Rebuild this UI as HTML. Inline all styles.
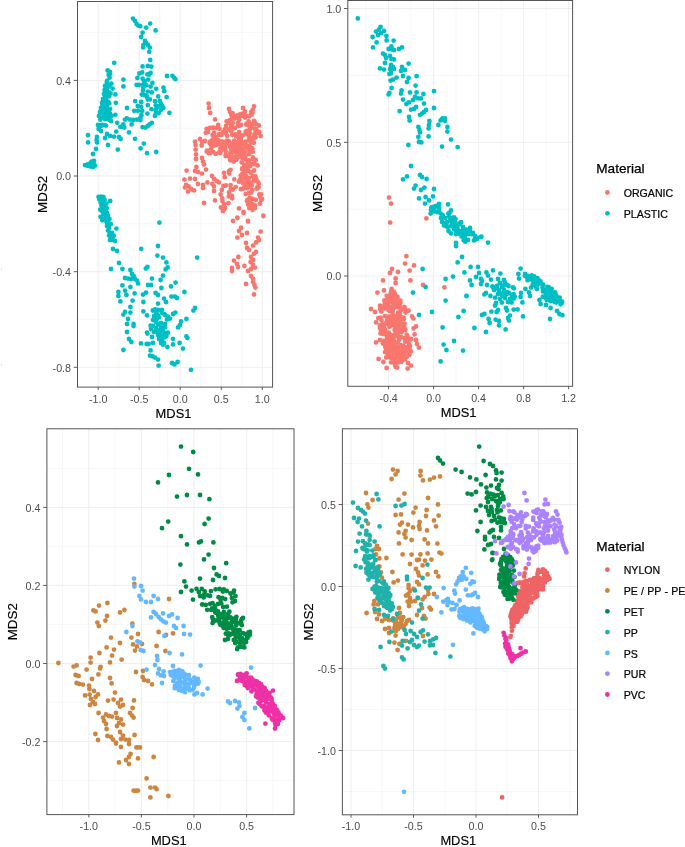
<!DOCTYPE html>
<html lang="en"><head><meta charset="utf-8"><title>MDS plots</title>
<style>html,body{margin:0;padding:0;background:#fff}svg{display:block}text{font-family:"Liberation Sans", Arial, Helvetica, sans-serif}.tk{font-size:10.7px;fill:#4d4d4d}.tt{font-size:12.9px;fill:#000;stroke:#000;stroke-width:.15}.lt{font-size:13.6px;fill:#000;stroke:#000;stroke-width:.25}.lg{font-size:10.6px;fill:#000;stroke:#000;stroke-width:.2;word-spacing:.3px}.mj{stroke:#ececec;stroke-width:.9}.mn{stroke:#f1f1f1;stroke-width:.6}.bd{fill:none;stroke:#555;stroke-width:1}.tm{stroke:#4d4d4d;stroke-width:.9}.pt{fill:none;stroke-linecap:round;stroke-width:4.8}</style></head><body>
<svg width="685" height="847" viewBox="0 0 685 847">
<rect width="685" height="847" fill="#fff"/>
<g id="p1">
<path class="mn" d="M118.7 1.5V387.1M159.7 1.5V387.1M200.7 1.5V387.1M241.7 1.5V387.1M77.5 32.6H272.6M77.5 128.2H272.6M77.5 223.8H272.6M77.5 319.4H272.6"/>
<path class="mj" d="M98.2 1.5V387.1M139.2 1.5V387.1M180.2 1.5V387.1M221.3 1.5V387.1M262.3 1.5V387.1M77.5 80.4H272.6M77.5 176H272.6M77.5 271.7H272.6M77.5 367.3H272.6"/>
<path class="pt" stroke="#00BFC4" d="M133 18.6h0M135 21h0M136.6 24h0M138.2 25.6h0M140.2 26.2h0M146.2 27.6h0M150.2 23.6h0M155.6 30.4h0M142.6 32.6h0M141.2 37h0M145 41h0M146.2 43h0M143.4 45h0M143.2 47.4h0M148 45h0M149.8 47.6h0M149.2 51.8h0M150.2 60h0M142.6 66.4h0M147.8 66h0M151.4 66.6h0M142.2 72.4h0M147.4 74.4h0M150.6 73h0M137.4 78h0M142.6 78.6h0M144.6 81h0M148.2 79.6h0M136.6 84.8h0M139 84.8h0M143 84.8h0M146.2 85.2h0M150.6 86.6h0M156.2 88.8h0M163.4 87.6h0M164.2 91.2h0M167 76h0M172.4 75.8h0M174.2 77.8h0M175.4 79.2h0M166.6 97.2h0M143 90.6h0M147.8 91.6h0M151.8 92.4h0M141.8 94.6h0M147 96.4h0M147.8 99.6h0M158.2 96.4h0M155 101.2h0M159.8 100.8h0M161 103.6h0M162.2 106h0M163.4 108h0M169.4 112.8h0M135.2 101.2h0M141.2 102h0M147.8 105.2h0M137.8 106h0M141.2 106.8h0M134.2 110.8h0M138 110.8h0M142.2 110.8h0M151.4 109.2h0M155.8 110h0M147.4 113.6h0M155.8 113.6h0M158.6 113.2h0M127 108h0M141.4 115.6h0M140.4 118h0M136.8 119.6h0M133.2 120h0M130 119.6h0M126.8 118.4h0M125 119.6h0M131.6 124.4h0M123.4 124.4h0M120.4 126.8h0M124.2 127.6h0M117.2 122.8h0M116.2 131.6h0M129 132.4h0M151.8 122.8h0M149.6 124.4h0M147.8 126h0M145.4 127.6h0M142.6 127.2h0M135 138.8h0M143.8 143.6h0M140.6 148.4h0M147 153.2h0M156.2 152h0M123.4 79.6h0M123.4 86.4h0M114.2 62.8h0M115.4 94.4h0M115.8 102.8h0M115.4 114.8h0M117.8 149.6h0M108 145h0M120.6 139h0M119 137h0M114 136.6h0M110 136h0M107 134h0M105 138h0M88 135.2h0M88 142.4h0M96 149h0M93 154h0M107.6 70.4h0M110 72h0M108.6 75h0M109.6 77.6h0M107 81h0M111.4 83.6h0M105 86h0M108 87h0M112.6 88.6h0M104.6 90h0M107 91h0M109 92.4h0M104 94h0M106.6 95.6h0M109 96.4h0M103 99h0M106 100h0M108 101.6h0M102 103h0M105 104.4h0M107 105.6h0M101 108h0M104 109h0M107 109.6h0M110 109h0M100 112h0M102.6 113h0M105.4 114h0M109 114.4h0M111.4 116h0M99 116h0M102 117.6h0M105 119h0M108.6 119.6h0M111 121h0M98 125h0M100.6 126h0M103 125h0M106 125.6h0M98.6 129h0M101 131h0M97 137h0M96.6 140h0M97 142.4h0M85 165.2h0M87 165.6h0M89 164h0M91 162.4h0M94 161h0M92 165h0M90 166.4h0M95 165.6h0M93 167h0M100.3 119.5h0M108.4 86.3h0M104.9 97.2h0M106.9 116.2h0M109.3 96.2h0M104.3 112.4h0M101.5 124.9h0M110.1 73.7h0M110.6 93.3h0M104.2 99.8h0M109.3 103.2h0M106.8 82.4h0M107.8 111.8h0M109.2 109.5h0M102.5 104.9h0M105.1 105h0M107.6 109.8h0M105.1 115.6h0M105.3 94h0M109.6 85h0M105.2 125.3h0M102 102.7h0M108.6 117.9h0M109.9 113.5h0M158.7 106.5h0M152.4 82.9h0M150 99.4h0M149.1 74.7h0M143.4 87.6h0M143.9 80.8h0M144.7 83.5h0M141.4 115h0M147 96.8h0M139.4 73.5h0M161 109.8h0M154.9 115.9h0M156 109.4h0M140.4 120h0M155.7 105.3h0M144.5 95.2h0M87.8 164.5h0M89.1 164.8h0M91.7 161.6h0M93.8 164.1h0M91.7 166.4h0M90.6 165.6h0M98.6 197h0M101 196.6h0M103.4 197h0M99.4 199.4h0M102 199.4h0M104.6 200h0M110.2 201h0M100.6 202.6h0M103 203h0M101.4 205.6h0M104 206h0M106 207.4h0M102.6 209h0M105 210.6h0M107 213h0M103.4 214h0M106 215h0M102 218.6h0M105 218.6h0M107.4 217.4h0M109.4 219h0M106.6 222h0M108.6 223.4h0M107 226h0M109 228h0M116.4 228.6h0M108 230.6h0M110 232.6h0M109 235.4h0M111.4 236.6h0M110 240h0M112.6 239.4h0M115 241h0M113 249h0M117 251h0M119 263h0M111 269h0M122.4 269h0M159.4 222.6h0M158 246h0M141.2 248.8h0M157.4 255.6h0M163 257.6h0M166.4 262.4h0M167.6 267.4h0M165.6 269.4h0M147.4 267h0M145.8 268.6h0M197.2 257.6h0M130.4 270h0M132 274h0M133.6 276h0M125 278h0M128 278.6h0M131 279h0M135 279h0M137 280.6h0M138 283.4h0M152 278.6h0M163 275.6h0M160.6 280h0M175.6 282.6h0M171 286.4h0M122.4 285.4h0M130.4 287h0M148 285h0M151 285h0M161.4 288h0M125 290.6h0M118.4 292h0M118.4 296h0M126.4 295h0M134.6 293.4h0M143 294.6h0M146 292.6h0M155.6 293h0M158 295h0M184.4 292h0M164 298.6h0M166 302h0M171.4 296.6h0M175 296.6h0M177 298h0M120.4 301.4h0M132.6 300.6h0M143.4 302h0M158 303.6h0M130.4 307h0M155 309.4h0M158 310h0M162 310h0M125 312h0M123.4 314.6h0M130.4 312.6h0M143.4 311.4h0M147 315.4h0M156 314h0M158 316h0M165 315h0M168 316.6h0M170 318.6h0M173 314h0M175.4 312.6h0M195 308h0M193.4 310.6h0M186.4 319h0M181 321.4h0M128 319h0M127 324h0M133.6 324h0M133.6 326h0M153 320h0M156 322h0M158 324h0M161 323h0M165 324h0M153 326h0M156 328h0M161 327h0M165 327.4h0M151 329h0M163 331h0M147 332.6h0M127 332h0M178 327.4h0M180 325h0M101.6 200.2h0M104.4 202.6h0M106.8 208.3h0M112 233h0M110.3 235.2h0M108.1 226.7h0M106.3 203.7h0M113.8 235.7h0M106.3 214.7h0M107.9 215.5h0M100.2 209.6h0M102.3 220.3h0M105.7 211.4h0M104.7 204.8h0M110.9 224.1h0M101.6 210.8h0M100.5 216.8h0M113.2 239.9h0M147.4 333.6h0M152 337h0M158 335h0M161 336h0M165 337h0M162 340h0M159 339h0M173 339h0M186.4 336.4h0M187.4 338h0M129 339h0M131.4 342h0M141 343.4h0M146.6 344h0M148.6 344h0M153 343h0M161 343h0M163 342.4h0M167.4 347h0M173 344.4h0M179.6 343h0M183 348.6h0M123.4 350h0M150.6 350.4h0M150 355.6h0M152.6 356.4h0M155 357.6h0M158 359.6h0M158.6 365.6h0M172 363h0M174.4 364.4h0M177.6 362h0M191 369.8h0M154 332h0M158 331h0M165 333h0M166.4 336h0M160 333h0M161.8 336.2h0M164.1 343h0M150.6 325.7h0M167.9 332.7h0M158.9 317.4h0M160.3 329.8h0M164.5 314.1h0M161.7 312.8h0M154 316.2h0M160.2 333.8h0M163.1 344.7h0M167 319.4h0M156.9 314.3h0M152.8 310.5h0M155.7 330.9h0M156.4 319.8h0"/>
<path class="pt" stroke="#F8766D" d="M208.6 103.6h0M209 108h0M210.2 113h0M215 119.4h0M218.2 125h0M206.6 129h0M212.2 128h0M208 132h0M214 133h0M216 137h0M195 141.6h0M200 139h0M202 142h0M205 141h0M195.6 145h0M201.6 145.6h0M195.6 149.6h0M196 154.4h0M196 159h0M202 158h0M203 161.6h0M204 164.4h0M196.4 167h0M206 169.6h0M195 171h0M198 172h0M202 173.6h0M186.6 170.6h0M212 176h0M184.4 179.6h0M190 178.6h0M195 179h0M214 179h0M216.6 181h0M219 182.4h0M198 184h0M203 185h0M207.4 182.4h0M212.4 184h0M214 186.4h0M186 185h0M188.6 186.4h0M185 187.6h0M191 189h0M194 190.4h0M188 191.6h0M203 188h0M214 191h0M204 203h0M215 200.4h0M233 221h0M237.4 218h0M239 208.4h0M243.6 213h0M248 221h0M263.4 215.6h0M241 227.6h0M223 211h0M225 208h0M229 109h0M243 108h0M254 106.4h0M252.6 110h0M260.6 136h0M249.1 154.2h0M232 123.4h0M231.1 150.8h0M225.7 151.4h0M220.2 153.1h0M245.6 131.8h0M234.9 146.5h0M215.7 139.4h0M249.8 123.6h0M249.7 146.7h0M251.9 127.5h0M210.2 153h0M249.7 133.5h0M240.3 125h0M216.2 145h0M255.6 137.3h0M240.8 147.4h0M238.5 125.7h0M253.9 137.9h0M211.5 145.5h0M231.9 116.6h0M239.5 125.8h0M226 130.4h0M246.5 130.9h0M242.3 157.9h0M229.9 154.7h0M249.3 137.4h0M231.2 147.8h0M246.5 123.6h0M232.1 152.1h0M211.9 141.4h0M230.1 160h0M253.9 142.7h0M219.9 135.1h0M226 125.8h0M249.7 126.8h0M241.7 162.4h0M256.3 129.7h0M227.1 135.8h0M249.1 160.5h0M230 112.1h0M206.7 151.5h0M211.2 148.5h0M252.5 112.4h0M239.1 132.2h0M232.3 134.8h0M213.1 143.4h0M238.7 116.9h0M239.9 114.4h0M210.9 144.5h0M230.7 158.5h0M209.6 143h0M254.7 133.9h0M243.6 152.5h0M255.5 133.2h0M248.3 133.6h0M220.4 148.2h0M208.5 153h0M252.7 124.4h0M258.7 132.7h0M240.5 138.5h0M245.7 115.3h0M235.4 134.5h0M232.5 113.1h0M213.4 140.3h0M226.6 121.3h0M217.3 140h0M255.6 132.1h0M218.4 140.5h0M248.7 140.3h0M226.2 133.3h0M235.6 145.4h0M244.8 144.5h0M249.8 129.5h0M214.1 143.4h0M207.2 150.7h0M248.7 121.4h0M236.4 159.7h0M221.3 134.9h0M245.3 156.5h0M214.4 145.4h0M242.6 149.1h0M241.2 124.8h0M229.7 120.1h0M252.8 151.8h0M237.9 123h0M249 150h0M243 151.7h0M210.2 141.7h0M257.7 133h0M251.3 111.8h0M251.1 113.8h0M237.8 124h0M226.3 141.7h0M236.3 143.5h0M249.9 140.7h0M233.6 115.6h0M238 135.1h0M252.9 138.2h0M243.6 153.6h0M231.2 155.3h0M225.6 156h0M239.6 151.3h0M233.9 161.5h0M233.9 151.7h0M232.1 129h0M237.9 156.7h0M241.1 152.9h0M211.1 142.2h0M245 117.5h0M242 115.9h0M245.5 159.4h0M240 156.3h0M246.1 134.2h0M230.3 153.2h0M236.8 149.4h0M255.7 124.1h0M226.4 143.3h0M225.7 154.8h0M213.2 145.7h0M231.1 131.2h0M251.6 114.7h0M242.7 135.4h0M229.3 123h0M235.1 128h0M235.3 157.6h0M244.9 111.5h0M246.5 145.4h0M253.9 136.2h0M234.8 118.4h0M245.4 147.6h0M254 121h0M245.5 141.7h0M241.5 113.8h0M228.9 141.2h0M239.4 142.5h0M220 144.1h0M240.8 155h0M258.9 125.5h0M228.7 129.4h0M222.7 145.5h0M252.4 148.5h0M246.2 124.6h0M232.6 149h0M254.7 122.2h0M233.7 157h0M213.5 152.1h0M249.1 116.4h0M223.2 132.1h0M243.6 142.7h0M232.1 126.8h0M239.2 119.6h0M236.4 144.6h0M237.9 141.8h0M227 140.7h0M255.2 129h0M232.7 122.9h0M225.1 148.2h0M227.9 141.4h0M222 141.4h0M231.3 114.7h0M237 146.2h0M231.1 127h0M238.8 135.5h0M240.5 144.2h0M233.6 128.3h0M237.6 115.3h0M224.3 144.8h0M239.1 138.5h0M251.1 142.5h0M219.7 152h0M240.8 139.9h0M231.9 160.4h0M231.2 120.3h0M259.3 132h0M224.8 129.3h0M215.6 153.9h0M236.2 136.6h0M234.4 159.5h0M242.5 144.1h0M247.3 164.3h0M255.7 160h0M252.7 176.1h0M240 179.9h0M249.9 201.5h0M242.2 168.3h0M255.1 208.1h0M253.8 177.8h0M246.9 200.9h0M243.6 188h0M255.4 176.5h0M253 159.5h0M256.4 179.5h0M247 188.2h0M250.6 172.5h0M259.3 194.4h0M245.2 187.6h0M252.4 204.1h0M249.7 197.6h0M242.9 182.9h0M258.6 187.5h0M256.8 188.7h0M253.8 181.1h0M251.1 192.5h0M248.9 192.8h0M242.3 169.6h0M249 203.9h0M241.1 180.7h0M260 203.5h0M246.1 178.8h0M248.2 204.6h0M243.5 168.8h0M245 182.7h0M254.1 170.5h0M248.5 187.1h0M252.2 190h0M262 198.9h0M261.4 199.9h0M249 177.9h0M244.3 164.9h0M241.6 176h0M254.7 164.2h0M245.5 175.1h0M248.3 162.8h0M250.9 182.6h0M247.8 170.6h0M252.5 164.1h0M252.9 157.5h0M252.5 209.8h0M261.1 194.3h0M245.7 176.2h0M252.6 198.8h0M247.4 168.3h0M259.9 196.7h0M244.8 184.5h0M245.6 194.1h0M244.6 168.5h0M244 167.2h0M255 205.5h0M255.7 200h0M258.2 182.3h0M247.5 200h0M249.3 208.1h0M257.6 165.4h0M248 186.2h0M252.5 207.3h0M250.1 203.9h0M245.4 172.1h0M248.1 181.2h0M253.9 205.7h0M249.8 206.5h0M251.8 185.3h0M250.3 166.1h0M257.6 186.6h0M247.3 184.5h0M258.8 183.9h0M222.3 198.4h0M235.7 187.1h0M230.8 188.8h0M224 204.2h0M228.9 171.2h0M220.6 194.5h0M228.8 196.4h0M231.9 195.9h0M243.6 188.5h0M224 209.5h0M241.9 179.1h0M222.5 201.2h0M240.9 189.2h0M224.1 172.9h0M232.7 189.5h0M220.9 207.5h0M232.2 198.3h0M224.7 177.2h0M225.9 185.5h0M242.2 174.1h0M229.3 173.6h0M238.9 181.7h0M223.4 186h0M230.6 185.2h0M234.3 179.3h0M221.8 190h0M228.4 203.2h0M229 192.4h0M240.7 175.7h0M230.5 169.8h0M214.3 132.7h0M216.1 137.1h0M205.8 132.8h0M219.1 134.1h0M219.5 128.8h0M209.8 128h0M215.1 142.6h0M216.8 139.9h0M212.7 139.4h0M213.4 127.6h0M212.6 134.9h0M216.9 128.2h0M232.1 148.6h0M232.4 144.1h0M242.8 156.5h0M235.8 143.2h0M229.9 146.6h0M244.8 152.1h0M223.8 145.7h0M236.7 149.1h0M237.2 153.2h0M234 140.9h0M248.4 146.1h0M220.8 151h0M226.2 141.3h0M232.7 156.9h0M213.9 144.5h0M228.9 156.4h0M235.9 150.7h0M244.6 143h0M233.5 142.3h0M241.1 141.9h0M248.7 148.7h0M225.2 144.9h0M219.1 152.3h0M227.1 143.3h0M235.5 156.4h0M241.2 149.6h0M222.3 148.7h0M221.6 146.4h0M233 221h0M237.4 217.6h0M248 221.4h0M263.4 216h0M243.6 212h0M239 208.4h0M241 228h0M239 231h0M242 235h0M237.4 237.6h0M247 233h0M260.6 231.6h0M258 237.6h0M259 240h0M256 242.4h0M253 245.6h0M246 243h0M247 248h0M249 250h0M256 252h0M254 253.6h0M238.4 257h0M234 260.6h0M251 257h0M253 260h0M250.6 262h0M237 264h0M238 267h0M244.4 266h0M253 265h0M255 267.6h0M232 268h0M232 271h0M251 269h0M248 271h0M251 276h0M253 279h0M253 282h0M246 284h0M254.4 285h0M255.4 287.6h0M254 294.4h0"/>
<rect class="bd" x="77.5" y="1.5" width="195.1" height="385.6"/>
<path class="tm" d="M98.2 387.1v2.9M139.2 387.1v2.9M180.2 387.1v2.9M221.3 387.1v2.9M262.3 387.1v2.9M77.5 80.4h-3.8M77.5 176h-3.8M77.5 271.7h-3.8M77.5 367.3h-3.8"/>
<text class="tk" x="98.2" y="402.5" text-anchor="middle">-1.0</text>
<text class="tk" x="139.2" y="402.5" text-anchor="middle">-0.5</text>
<text class="tk" x="180.2" y="402.5" text-anchor="middle">0.0</text>
<text class="tk" x="221.3" y="402.5" text-anchor="middle">0.5</text>
<text class="tk" x="262.3" y="402.5" text-anchor="middle">1.0</text>
<text class="tk" x="71" y="84.8" text-anchor="end">0.4</text>
<text class="tk" x="71" y="180.4" text-anchor="end">0.0</text>
<text class="tk" x="71" y="276.1" text-anchor="end">-0.4</text>
<text class="tk" x="71" y="371.7" text-anchor="end">-0.8</text>
<text class="tt" x="173.5" y="417.7" text-anchor="middle">MDS1</text>
<text class="tt" style="font-size:13.4px" transform="translate(47.3 194.3) rotate(-90)" text-anchor="middle">MDS2</text>
</g>
<g id="p2">
<path class="mn" d="M366.1 0.5V386.3M411.1 0.5V386.3M456.1 0.5V386.3M501.1 0.5V386.3M546.1 0.5V386.3M347.8 75.4H572.6M347.8 209.2H572.6M347.8 343H572.6"/>
<path class="mj" d="M388.6 0.5V386.3M433.6 0.5V386.3M478.6 0.5V386.3M523.6 0.5V386.3M568.6 0.5V386.3M347.8 8.5H572.6M347.8 142.3H572.6M347.8 276H572.6"/>
<path class="pt" stroke="#F8766D" d="M389 197.6h0M391 203.6h0M390.2 222.6h0M426.4 218.4h0M406.4 256.2h0M405 263.6h0M414 265.4h0M392 269h0M398 272h0M409.6 270.6h0M390 273h0M395.6 278.4h0M383 280.4h0M395.6 283h0M410.4 280.4h0M423 285h0M444.4 287.4h0M377.4 292.6h0M384 290.4h0M391.6 289h0M371 309h0M375 312h0M380 305.6h0M405 309h0M408.6 310.6h0M412 316.4h0M413.4 318.4h0M416 326.4h0M413.6 328.4h0M414.6 334.4h0M411 339h0M416 340h0M417 344h0M419 347.6h0M376 342.4h0M380 340h0M378.6 359h0M383.4 362h0M386.6 368h0M397 367.6h0M407.6 368.6h0M411 365.6h0M408 363h0M376 322.4h0M399.8 315.7h0M398 362.6h0M401 361.9h0M387.9 303.2h0M406.7 334.6h0M409.8 349.9h0M401.4 337h0M387.9 350.5h0M400.4 302.8h0M394.7 329.4h0M391.3 340.9h0M390.1 334.6h0M387.4 335.7h0M396 322.7h0M400.6 330.3h0M389.4 322.5h0M391.1 362.4h0M391 295.7h0M396.1 315.9h0M388.5 316.6h0M395.7 351.7h0M399.6 304.1h0M391.4 354.2h0M395.3 334.8h0M393.6 346.2h0M404.4 353.6h0M383 343.4h0M392.2 309.5h0M389.3 297.4h0M384.6 308.4h0M386.7 295.8h0M393.4 304.6h0M389 346.8h0M409.4 354.7h0M378.3 318.2h0M384.1 327.2h0M390.4 348h0M402.1 325.2h0M385.7 306.5h0M400.3 300.6h0M408.1 339.7h0M395.7 299.2h0M389 357.1h0M390.3 339.2h0M389.7 355.9h0M394.9 303.1h0M386.7 300.7h0M401.4 353.4h0M391.2 357.9h0M403.7 318.9h0M390.3 306.9h0M395.1 365.6h0M382.4 332.6h0M407.3 335.9h0M395.5 349.4h0M394.7 363.1h0M398.8 347.2h0M410 346.2h0M408.6 352.1h0M399.8 313.7h0M386.8 307.1h0M388.1 296.3h0M392.6 314.6h0M383.1 326.1h0M391.5 316.3h0M405.5 312.5h0M395.9 358.2h0M395 305.4h0M381.5 307.1h0M387.9 299.1h0M393.8 352.1h0M394.7 293.5h0M388.9 318.5h0M393.1 338.5h0M405.3 341.7h0M389.6 310.9h0M382.4 324.3h0M388.8 319.8h0M396.5 302h0M396.5 353.8h0M386.2 357.5h0M395.5 342.6h0M397.1 336.2h0M385.4 332.3h0M389.4 351.8h0M397.3 306.2h0M391.6 298.2h0M398.2 312.6h0M400.8 345.1h0M392.5 352.7h0M394.8 300.8h0M380.5 317.7h0M393.7 302.1h0M379.9 328.1h0M385.9 323.5h0M392.8 343.8h0M395.9 361.9h0M398.9 314.8h0M392.1 346.6h0M385.1 352.2h0M391.3 291.4h0M389 332.8h0M408.7 343.2h0M395.8 300.6h0M392.8 318.8h0M387.1 337h0M386.9 339.4h0M388 354.6h0M392.9 301.2h0M386.1 348.6h0M404.8 338.5h0M387.7 341.1h0M402.6 317.4h0M379.9 325.5h0M384.8 303.1h0M390.7 294h0M408.4 347h0M405.3 330h0M387.9 356.6h0M385 316.2h0M391.5 300h0M400 307.4h0M392 349.3h0M389.1 308.5h0M381.3 311.6h0M385.2 346.8h0M389.4 344.5h0M387.7 319.4h0M384.4 300.5h0M397.5 296.9h0M401 350.9h0M394 325.1h0M395 307.2h0M396.4 328.3h0M397.9 342.1h0M401.2 328.6h0M387.7 352h0M390.2 296.3h0M394.4 357.8h0M390.7 307.8h0M406.7 356.9h0M388.4 309.3h0M410.8 351.5h0M391.4 347.5h0M403.6 347.5h0M404.3 306.8h0M392.1 295.1h0M390.1 353.4h0M389.4 326.7h0M394.3 342.8h0M409.8 352.1h0M395.8 366.9h0M397.9 335.5h0M390.9 321.5h0M403.7 317.8h0M396.9 317.3h0M403.3 345.9h0M400.9 310.4h0M391.2 325.4h0M384.4 305.2h0M403.3 329.2h0M402.9 357.2h0M383.9 329.3h0M396.1 345.8h0M385 334.2h0M386.9 302.7h0M391 309.7h0M387.9 306.2h0M398.9 338.1h0M381.6 320.3h0M395.3 347.7h0M395.6 295.4h0M393.7 340.4h0M404.5 323.7h0M380.9 329.8h0M397.9 332.8h0M397.4 323.2h0M396.7 355.2h0M388.7 300.5h0M408.5 338.5h0M390.2 320h0M380.5 333.4h0M404.5 327.9h0M401.4 347.1h0M388.6 339h0M383.4 341h0M399.6 350h0M401.6 361h0M393.8 291.6h0M391.9 337.3h0M392 301.7h0M394.1 345.2h0M387.5 323.7h0M399.1 330.5h0M405 359.3h0M393.9 297.4h0M401.4 319.7h0M398.5 321.1h0M388.4 322.8h0M398.8 354.6h0M392.7 311.2h0M395 359.5h0M408.7 349h0M394.7 330.4h0M380.2 308.9h0M393.8 335.2h0M386.9 321.1h0M399.1 339.6h0M400.4 359.5h0M382.9 333.9h0M390.1 317.1h0M399 307.6h0M400.8 325.4h0M406.5 347.7h0M404.8 350h0M398.7 351.7h0M387.3 340.9h0M386.3 343.2h0M398.9 347h0M392.7 353.4h0M394.4 359.3h0M399.3 326.4h0M390.2 317.5h0M394.9 321.5h0M402.7 357.2h0M390 355.3h0M397.6 349.1h0M399.3 357.2h0M385.1 329.6h0M386.4 307.2h0M393.6 340.9h0M399.8 332.1h0M388.3 338.4h0M397.3 323h0M400.5 323.8h0M393.3 351.2h0M388.5 309.9h0M395.6 325.8h0M391.2 301.7h0M392.9 318h0M392.9 346.9h0M398.7 349.9h0M394.9 334.9h0M392 323.4h0M387.9 317.4h0M389.5 319.5h0M403 349.1h0M388.8 332.8h0M398.2 324.8h0M396.9 355.9h0M388.9 322.5h0M399.7 318.4h0M398.9 323.4h0M383.4 327.6h0M401.6 331.9h0M392.8 309.2h0M395.2 342.8h0M394.1 303h0M400.6 329.8h0M398.5 314.3h0"/>
<path class="pt" stroke="#00BFC4" d="M357.8 18.4h0M380.6 27h0M379 29.6h0M376 31.6h0M384 31h0M381 33h0M378 35h0M372.6 37h0M386.4 36h0M376.6 42.4h0M386.6 40.4h0M393.6 40.6h0M373 47.4h0M391.4 46.4h0M388.6 49h0M392 49.6h0M402 47.4h0M399 49h0M394 50h0M383 53.6h0M385 55h0M390 56h0M386 58h0M391.4 59h0M394 59.4h0M385 63h0M408.6 63.6h0M391 65h0M393 67h0M402 67h0M380 68.4h0M384 69.6h0M390 69h0M394 69h0M405 70h0M401 71h0M391 73h0M389.4 74h0M416.6 76.2h0M403 76h0M396.6 77.6h0M408.6 78h0M393 79.6h0M390.6 80.6h0M407 82h0M415.6 85.6h0M391.6 88h0M401.6 90.4h0M434 91.2h0M389.4 93h0M388.6 94.4h0M410 92.4h0M416.6 92.4h0M401 93.6h0M423.4 94h0M415 97h0M418 98.4h0M421 98.4h0M403 99.6h0M413 100h0M409 102.4h0M406.4 104h0M424 103.6h0M416 107h0M414 109h0M411 109.6h0M434 108h0M399.6 111.2h0M426 110h0M424 112h0M422 113.6h0M420 114.8h0M409 117h0M409.6 120.6h0M442.4 118.4h0M445 118.4h0M440.6 120.4h0M445 121h0M429.4 121h0M438.4 125h0M429 125h0M447.4 127h0M418.4 127h0M428.6 128.4h0M419.4 130h0M420 132.4h0M447.4 131.6h0M428.6 136.4h0M418.4 137h0M451 139.6h0M419 142h0M421.4 142.4h0M408.4 145h0M442 146.6h0M457.6 147.2h0M411 166h0M407 176.4h0M403 179.4h0M420 175h0M422 177h0M426.6 179h0M415.6 185.6h0M414 188.6h0M424.4 187.6h0M421 190h0M434 189h0M433 196.4h0M425.6 197h0M419 198.4h0M429 200.4h0M425 203.6h0M439 204h0M448 204.4h0M433 207h0M436 206h0M439 208h0M431 210h0M434 211h0M437 212h0M451 210.4h0M430.6 213.6h0M440.6 213.6h0M454 217.4h0M441 218h0M445 218h0M449 216h0M442 222h0M446 223h0M450 221h0M455 222h0M444 225.6h0M448 227h0M452 225h0M457 225.6h0M460 224h0M463 227h0M470 228h0M454 229h0M458 230h0M462 231h0M466 229.6h0M451 233.4h0M456 234h0M460 234h0M464 234h0M468 233h0M473 233h0M475 236h0M465 239h0M468 240h0M477 239h0M481 237h0M456 243h0M456 246h0M462 257h0M457.6 262.4h0M422.6 269h0M470.6 267h0M478 267h0M464.4 272.4h0M479 273h0M476 277h0M453 276.6h0M445.6 279h0M470 280.4h0M481 279h0M471.6 285h0M481 284h0M425.6 287h0M413 292.6h0M466.6 296h0M461.1 222.2h0M452.2 225h0M446.8 222.4h0M477.5 238h0M467 233h0M458.5 231.7h0M475.2 237.7h0M450.1 217.9h0M452.1 218.7h0M431.3 207.5h0M465.2 241.7h0M454.3 222.7h0M457 232.4h0M457.3 227.7h0M438.9 210.5h0M447 226.7h0M463.5 229.7h0M474 240.4h0M448.4 213.4h0M442.6 215h0M455.8 231.7h0M431.4 212.1h0M471.1 234.2h0M450.9 226.1h0M463.6 240.3h0M461.5 236.4h0M434.6 207.6h0M448.5 231h0M464.8 237.2h0M467.9 234h0M449.1 215.8h0M454.7 224.9h0M459.5 223.3h0M455.4 218.8h0M449.7 212.6h0M470 231.5h0M445.6 300.6h0M466.4 296h0M432 312h0M419 315h0M463.6 311h0M458.4 317h0M442.6 327.4h0M474.4 328h0M454 341h0M443.6 344.6h0M446.4 350h0M463 350.6h0M440.6 361.4h0M481.4 236.6h0M488 242.6h0M486.4 272.4h0M493 270.4h0M500.4 273.6h0M488 275.6h0M491 279.6h0M498 279h0M504 280h0M482 281h0M487 285h0M500 283h0M505 282.4h0M492.4 286.4h0M497 286h0M502 287h0M507 285h0M513 287.4h0M494 290h0M499 291h0M504 290h0M486 293h0M484.4 294.4h0M490.4 296h0M498 294h0M502 295h0M509 293h0M512 295.6h0M500 299h0M505 298h0M510 299h0M514 298.4h0M508 302h0M511.6 302.4h0M496 303h0M495 305.6h0M498 310h0M506 308h0M507 310.6h0M513.6 309.6h0M517.6 309.4h0M491.4 311.6h0M496.6 312h0M484.4 314h0M482 315h0M510 315.6h0M508 318h0M509 320.6h0M488.6 319h0M495.6 319.6h0M499 321h0M489.6 323h0M499 325.4h0M505.6 329.4h0M486 332h0M523 316.4h0M520.6 268.6h0M518.4 274h0M519 278.6h0M525 274h0M525.4 289h0M521 293h0M520.6 297h0M522.4 302.4h0M529 292.4h0M530 296h0M531 287.6h0M539.4 300h0M540.6 304h0M546 305h0M550.6 308h0M555 302h0M557 311h0M559.4 314h0M562.4 315.2h0M550 319h0M560.6 304.3h0M547.4 287h0M525 275.8h0M544.3 297.2h0M555 292.4h0M550.1 293.5h0M546.7 294.8h0M542.8 296.7h0M528.5 276.3h0M546.7 300.1h0M537.1 285.2h0M535.4 283.1h0M534.2 276.5h0M555 296.3h0M531.7 275.5h0M532.6 276.4h0M556.2 302.5h0M551.4 300.4h0M535.7 286.5h0M546.3 290.9h0M542.6 287.8h0M551.7 288.8h0M551.3 290.8h0M542.9 291.3h0M534.1 282.2h0M527.5 280.2h0M534.9 285h0M546.6 298.4h0M540.9 283.5h0M548.5 290.6h0M554.6 300.4h0M552.7 298h0M540.4 281.1h0M548.7 287.1h0M552.1 295.1h0M534.8 278.6h0M547.3 290h0M553.7 293h0M527.1 275.7h0M556.1 298.1h0M555.6 294h0M555.8 299.3h0M529.7 277.6h0M544.7 290.7h0M556.6 296.7h0M561.7 303.2h0M538.2 279.8h0M549.2 298.1h0M558 298.7h0M537.4 278.1h0M543.2 284.6h0M550.3 301h0M545.5 292.4h0M538.9 283.4h0M526.4 276.8h0M559.7 297.6h0M554.6 298.9h0M552.9 300.8h0M560.2 301h0M562.1 301.6h0M532.9 280.9h0M531 279.4h0M536.9 289h0M543.7 289.8h0M557.4 300h0M532.6 284.8h0M501.8 302.5h0M513.9 288.3h0M514.7 296.7h0M498.6 290.1h0M503 295.8h0M495.2 297.7h0M513.6 294.2h0M512.7 296.5h0M501.3 293.4h0M508.5 286h0M507.2 292.3h0M496.9 287.2h0M504 285.4h0M506.6 294.3h0M493.1 287.4h0M503.3 293.9h0"/>
<rect class="bd" x="347.8" y="0.5" width="224.8" height="385.8"/>
<path class="tm" d="M388.6 386.3v2.9M433.6 386.3v2.9M478.6 386.3v2.9M523.6 386.3v2.9M568.6 386.3v2.9M347.8 8.5h-3.8M347.8 142.3h-3.8M347.8 276h-3.8"/>
<text class="tk" x="388.6" y="401.7" text-anchor="middle">-0.4</text>
<text class="tk" x="433.6" y="401.7" text-anchor="middle">0.0</text>
<text class="tk" x="478.6" y="401.7" text-anchor="middle">0.4</text>
<text class="tk" x="523.6" y="401.7" text-anchor="middle">0.8</text>
<text class="tk" x="568.6" y="401.7" text-anchor="middle">1.2</text>
<text class="tk" x="341.3" y="12.9" text-anchor="end">1.0</text>
<text class="tk" x="341.3" y="146.7" text-anchor="end">0.5</text>
<text class="tk" x="341.3" y="280.4" text-anchor="end">0.0</text>
<text class="tt" x="458.6" y="416.9" text-anchor="middle">MDS1</text>
<text class="tt" style="font-size:13.4px" transform="translate(321.6 193.4) rotate(-90)" text-anchor="middle">MDS2</text>
</g>
<g id="p3">
<path class="mn" d="M62.5 428.8V814.6M115.1 428.8V814.6M167.7 428.8V814.6M220.3 428.8V814.6M272.9 428.8V814.6M46.9 468.4H294M46.9 546.4H294M46.9 624.4H294M46.9 702.4H294M46.9 780.4H294"/>
<path class="mj" d="M88.8 428.8V814.6M141.4 428.8V814.6M194 428.8V814.6M246.6 428.8V814.6M46.9 507.4H294M46.9 585.4H294M46.9 663.5H294M46.9 741.6H294"/>
<path class="pt" stroke="#CD853F" d="M169 599h0M158.6 632h0M166 635h0M173 633.4h0M156.6 646h0M165.4 651h0M152 684.4h0M134.4 584h0M58.4 663h0M107.4 603h0M99 605.6h0M93.4 610.4h0M95.6 611.4h0M124.4 610h0M120 612.4h0M107 616h0M105.4 620.6h0M97.4 622.6h0M98.8 626h0M132.4 623.6h0M138 634h0M111 637.6h0M131.4 637.6h0M120 643h0M142 644h0M133 644.4h0M137 646.4h0M106.6 647.4h0M114 649.6h0M135 650.6h0M99.4 653h0M112 655.6h0M90.6 657.6h0M121.6 659.6h0M90.6 662.6h0M110 662.4h0M76.6 665.4h0M73.6 666.6h0M100.6 667h0M86.6 669.6h0M100 668.4h0M98.4 674.4h0M75.6 675h0M78.6 676h0M110 678h0M92 679h0M76.6 683h0M79.4 684h0M83 684.6h0M111.6 683.4h0M89 685.6h0M89.4 689h0M94 691h0M136 672h0M143 671h0M142.6 677h0M144 680h0M148 681h0M152 684.4h0M115 692.6h0M85 695.4h0M89.6 694.6h0M98 694.4h0M95.6 697h0M91 699h0M93 702h0M90 705h0M95 704h0M108 700.6h0M113.6 699.6h0M121 699.6h0M134 700.4h0M118 703h0M123 705h0M120 706.6h0M132.6 708h0M98.6 713h0M130 713h0M132 715.6h0M133.6 717.6h0M116 713h0M106 714.4h0M103 717.6h0M109 716h0M112 716.6h0M117 718h0M121 719.4h0M104 721h0M106 724h0M119 723h0M123 724.6h0M117 726h0M106.6 729h0M120 732h0M95.4 734h0M134.6 735h0M107.4 736h0M111 737h0M123 735.6h0M113 739.6h0M121 739h0M125.4 739.6h0M129 740h0M98 740h0M116 742.6h0M116 743.6h0M121 747h0M136.4 747.4h0M138 747.4h0M140 747.4h0M130.6 754h0M129 757h0M126 760h0M138 758.4h0M153.6 757h0M119 762.4h0M129 764h0M146.6 778.4h0M150.4 787.6h0M155 787.6h0M156.6 789.2h0M133.6 790.6h0M136 790.6h0M138 790.6h0M150.4 797.4h0M168.4 796h0M129 744h0"/>
<path class="pt" stroke="#63B8FF" d="M251 667.6h0M228 701.4h0M230 703h0M235 701h0M239 702.4h0M239.4 706h0M237.4 708.6h0M244.4 713h0M242.4 717h0M244.4 720h0M249.4 728.4h0M255 708h0M200.6 665.6h0M173 666h0M159 669h0M163.6 671.4h0M158 673.4h0M161 675.4h0M164 676h0M162 683h0M207.6 688.6h0M197 693h0M194.4 694.4h0M202.6 694.4h0M182 654.4h0M169.6 653h0M157 656h0M157.4 660h0M155 665h0M153.6 596h0M158 599h0M151 602h0M153.6 612h0M156 614h0M163 613.4h0M158.6 617h0M151 617.4h0M161 619.4h0M163.4 621.4h0M166 622.6h0M169 616h0M172 614.4h0M177.6 618h0M174 626h0M176 628h0M183.6 626h0M164.4 636h0M184 634h0M190 634.6h0M187.3 683.8h0M189.9 690.3h0M189.9 683.4h0M185.1 692.2h0M185.9 679.1h0M178.6 675.7h0M188.4 686.4h0M182.6 689.2h0M198.7 681.9h0M178.1 673.3h0M172.9 676h0M176.8 674.8h0M178.7 677.9h0M174.9 670.8h0M192.9 682h0M173 671.7h0M170.8 674.9h0M175.5 672.8h0M189.9 679.4h0M184.2 677h0M186.2 687.6h0M178.9 669.8h0M179.1 690.2h0M184.8 683.3h0M185.2 674.5h0M174.9 685.8h0M188.9 675.2h0M185.4 689.3h0M177.7 682.6h0M182.2 690.9h0M194 687.8h0M180.7 688h0M192.7 689.7h0M179.9 680.4h0M183.4 673.1h0M171.6 673.1h0M182.3 671.3h0M194.6 681.6h0M180.6 674.3h0M194.3 677.6h0M178.1 686.3h0M198 683.7h0M176.5 684.7h0M170.1 672.1h0M174.6 678.6h0M173.3 681.1h0M181.2 682.7h0M184.8 680.7h0M180.2 671h0M195.4 684.3h0M188.9 688.7h0M179.5 684.2h0M182.4 675.9h0M197.9 678.8h0M174.7 688.2h0M179.8 686.1h0M176.9 687.8h0M184.8 685.2h0M180.5 677.4h0M175.4 676.8h0M194.1 685.9h0M177.2 677.1h0M134 578.6h0M134.4 586.6h0M141 586h0M142.6 590.6h0M139.4 596h0M141 599.4h0M146 602h0M132.4 626h0M126.4 632h0M137.4 641.4h0M140 642.4h0M140.6 650h0M143.4 651h0M146.6 669.6h0"/>
<path class="pt" stroke="#008B45" d="M181 446.6h0M193.2 452h0M189 468.8h0M198 474.4h0M169 475h0M158 482.4h0M177 496.6h0M187 495h0M200 495h0M209.4 499.2h0M208.6 518.6h0M204.6 524h0M168.2 521.6h0M162 528.2h0M181 536.2h0M187 544.4h0M199 542.4h0M201 541.4h0M213.4 542.4h0M208.6 554.6h0M204 559.4h0M180.4 564.6h0M226.2 563.2h0M214 568h0M216.6 574.4h0M219 576h0M225 578h0M184.4 581.4h0M200 578.6h0M213 580h0M219 576h0M225 578h0M186 586.6h0M181 592h0M191.6 590.6h0M193 599.6h0M212.6 623h0M225 640h0M228 639h0M234 590.6h0M235 601h0M250 632h0M243 618h0M196.5 588.8h0M212.5 603.1h0M201.8 588.8h0M205.7 604.9h0M202.2 604.5h0M223.8 589.4h0M218.5 597.2h0M235.5 596.1h0M204.3 594.3h0M211.3 609.9h0M204.8 591.4h0M220.6 599.7h0M210.9 591.1h0M232.5 602.3h0M226.7 590.8h0M222.9 591.5h0M210 595.9h0M223.2 606.9h0M221.3 603.4h0M200 596h0M215.1 606h0M219.6 589h0M210.1 603.8h0M231.9 597.9h0M207.7 595.3h0M230.5 593.5h0M203.7 597.4h0M225.2 599.1h0M218 603.9h0M215.6 589.3h0M226.9 606.7h0M233.6 592.5h0M198.8 592.2h0M222.2 598h0M228.9 633.4h0M244.3 647.4h0M218 611.3h0M228.1 614h0M241 640.9h0M207.2 609.8h0M244.1 643h0M248.8 633.5h0M234.2 620.1h0M218.4 616.3h0M231.1 624.6h0M223.8 618.2h0M242.9 633.1h0M239.7 643.5h0M216.8 612.3h0M241.8 625.2h0M241.1 622.4h0M223.6 627.8h0M214.5 620.3h0M222.9 617.2h0M219.5 621.4h0M219.8 623.4h0M233.1 618.7h0M225.8 633.7h0M241.9 619h0M239.8 638.7h0M245 640.1h0M245.2 634.2h0M229.6 627.8h0M227.2 624.6h0M225.2 616.8h0M239.9 634.9h0M238.4 635.6h0M235.9 619.6h0M246.1 641.9h0M241.2 620.4h0M218 614.7h0M236.1 625.3h0M212.2 617.1h0M236.4 617h0M228.1 623.7h0M231.5 619h0M237.9 647.3h0M220.3 617.6h0M248.5 632.3h0M215.3 612.6h0M226.9 627h0M236.8 633h0M232.8 620.6h0M233.4 630.3h0M215.9 620.4h0M237.2 649.2h0M247 636.2h0M229.4 611.7h0M226.7 629h0M220.4 624.7h0M242.3 640.6h0M249.8 634.8h0M235.9 623.1h0M229.2 635.2h0M225.8 619.1h0M229 617h0M223.8 616.1h0M239.5 636.8h0M236.2 642h0M235.1 621.9h0M215.2 608.8h0M223.9 622.8h0M239.6 630.2h0M213.2 609.1h0M240.8 646.7h0M212 608.4h0M235.2 643.1h0M233.8 640.1h0M223.9 626.1h0M231.8 622.2h0M242 638.1h0M218.5 619h0M222.2 625.5h0M225.2 623.1h0M212.8 619.1h0M224.3 619.5h0M230.5 617.5h0M237.8 630.1h0M231.6 627h0M248.4 636.4h0M223.8 611.9h0M235.5 638.1h0M220.8 614.5h0M234.5 628.8h0M226.9 615.6h0M222.4 615.5h0M235.6 635.6h0M232.8 633.7h0M238.8 623.2h0M226.4 621.4h0M227.8 634.8h0M231 634.3h0M247.7 637.8h0M227.9 617.9h0"/>
<path class="pt" stroke="#EE30A7" d="M276.1 719.8h0M239.5 679.4h0M238 674.8h0M252.5 681.8h0M271 704.7h0M251.4 686.4h0M240 676.1h0M244.9 674.7h0M260.8 701.3h0M250.9 682h0M263.7 699.8h0M270.2 710.7h0M241.8 677.3h0M244.1 677.5h0M266.1 701.9h0M245.5 683.7h0M258.4 702.8h0M274 706.9h0M260.7 700.2h0M276.9 713.2h0M270.9 708.1h0M264.4 710.2h0M261.8 688.1h0M267.8 707.9h0M265.2 692.3h0M243.6 679.9h0M266.1 697.4h0M267.8 692.8h0M257.1 683.3h0M280.9 715.6h0M251.2 680.2h0M239.5 674.9h0M246 675.1h0M266.1 693.5h0M277.1 720.8h0M256.4 691.1h0M270.7 709.7h0M261.3 696.4h0M264.2 705.6h0M255.9 684.9h0M279 714.3h0M253.8 682.6h0M277.9 724.1h0M268.9 704.1h0M278.4 712.3h0M260.3 689.6h0M264.6 688h0M259.7 703.9h0M251.2 677.7h0M276.5 723.6h0M272.3 707.9h0M266.1 690.9h0M246.1 682.8h0M250.1 680.6h0M258.5 688.4h0M274.6 715.8h0M271.5 710.5h0M260.7 692.8h0M268.1 712.6h0M265 690.3h0M264.1 688.9h0M281 717.5h0M261.6 706.3h0M251.9 680.9h0M272.9 704.6h0M275.1 722.9h0M276.5 709.8h0M247 677.2h0M268.8 715.4h0M275.5 724.9h0M242.2 681.1h0M249.2 686.8h0M271.6 698.8h0M247.1 681.5h0M243.2 678.7h0M273.6 708.9h0M270.8 697.3h0M266.5 691.8h0M267.8 710.5h0M263 691.5h0M253.8 685.9h0M274.7 705.8h0M272.5 719.8h0M246.8 686.2h0M265.3 707.2h0M253.1 687.9h0M259.5 690.6h0M258.1 697.8h0M259.7 692.6h0M259.9 684.9h0M256.8 681.5h0M269.8 697.3h0M271.9 718.4h0M253.8 689h0M262.1 686.4h0M279 716.2h0M241.5 675.2h0M260.3 695.9h0M239.9 680.2h0M274.8 709.3h0M258.4 687.3h0M252.5 679.3h0M254.6 684.7h0M247.6 685.7h0M270.1 711.6h0M244.7 684.9h0M261.9 693.7h0M279.1 718.9h0M277.1 710.5h0M256.8 693.9h0M275.4 708.7h0M259.2 683.2h0M275.2 715.1h0M248.5 677.7h0M257.5 690.8h0M265.8 699.5h0M247.9 688h0M261 684.2h0M263.7 695.8h0M244.2 681.9h0M270.4 706.9h0M268.1 711.4h0M240.5 673.8h0M267.1 699.3h0M271.7 700.4h0M269.5 693h0M248.9 681.8h0M278 722h0M265.8 712.6h0M254.6 680.9h0M251.4 691.3h0M274.4 717.8h0M253.3 681.3h0M274.1 707.9h0M268.2 698.7h0M277 714.6h0M268.9 709.8h0M250.5 683.2h0M273.8 713.5h0M259.3 702.3h0M277.6 711.8h0M272.8 703.7h0M266.6 695.5h0M256 696.3h0M279.3 720.1h0M265.4 723.6h0M273 690.6h0M237 681h0M238 674.4h0M246.6 673.4h0M275 728.6h0M283 718h0"/>
<rect class="bd" x="46.9" y="428.8" width="247.1" height="385.8"/>
<path class="tm" d="M88.8 814.6v2.9M141.4 814.6v2.9M194 814.6v2.9M246.6 814.6v2.9M46.9 507.4h-3.8M46.9 585.4h-3.8M46.9 663.5h-3.8M46.9 741.6h-3.8"/>
<text class="tk" x="88.8" y="830" text-anchor="middle">-1.0</text>
<text class="tk" x="141.4" y="830" text-anchor="middle">-0.5</text>
<text class="tk" x="194" y="830" text-anchor="middle">0.0</text>
<text class="tk" x="246.6" y="830" text-anchor="middle">0.5</text>
<text class="tk" x="40.4" y="511.8" text-anchor="end">0.4</text>
<text class="tk" x="40.4" y="589.8" text-anchor="end">0.2</text>
<text class="tk" x="40.4" y="667.9" text-anchor="end">0.0</text>
<text class="tk" x="40.4" y="746" text-anchor="end">-0.2</text>
<text class="tt" x="168.8" y="845.2" text-anchor="middle">MDS1</text>
<text class="tt" style="font-size:13.4px" transform="translate(17.2 621.7) rotate(-90)" text-anchor="middle">MDS2</text>
</g>
<g id="p4">
<path class="mn" d="M382.2 428.8V814.8M444.8 428.8V814.8M507.2 428.8V814.8M569.8 428.8V814.8M342.4 463.5H577.5M342.4 545.5H577.5M342.4 627.5H577.5M342.4 709.5H577.5M342.4 791.5H577.5"/>
<path class="mj" d="M351 428.8V814.8M413.5 428.8V814.8M476 428.8V814.8M538.5 428.8V814.8M342.4 504.5H577.5M342.4 586.5H577.5M342.4 668.5H577.5M342.4 750.5H577.5"/>
<path class="pt" stroke="#EE6363" d="M519.5 599.1h0M521.2 614.8h0M513.9 617.9h0M538.8 582.1h0M539.4 588.6h0M522.8 607.6h0M534.1 587.2h0M515.9 607.3h0M532.1 591.4h0M519.8 596.1h0M524.5 606.2h0M511.7 611.9h0M524.9 592.3h0M545 582.4h0M534 591.9h0M510.5 616.4h0M531.2 593h0M517.4 594.1h0M525.2 604.8h0M512.4 609.7h0M535.4 586.2h0M534.2 578.1h0M531.7 590h0M543.2 572.2h0M525.3 590h0M526.5 607.7h0M529.1 585.8h0M545.4 576.9h0M512.3 626h0M535.6 597.2h0M546.8 577.8h0M537 594.5h0M522.7 591.6h0M522.4 587.2h0M536.6 592.2h0M518.2 596.7h0M516.1 619.8h0M527.3 599.5h0M544.6 577.7h0M519.5 610.5h0M533.7 590.8h0M517.2 621.8h0M523.7 609.2h0M526.8 583.6h0M526 581h0M521.2 611.2h0M522.4 600.5h0M515.5 604.8h0M543.8 579h0M514 616h0M533.5 598.4h0M520.9 604h0M526.7 602.6h0M535.6 594.9h0M525.5 593.9h0M543.1 586.6h0M529 598h0M521.7 608.4h0M513.1 612.6h0M535.5 584h0M536.5 589.8h0M537.1 579.9h0M527.3 589.2h0M527.7 593.1h0M529.2 599.7h0M540.2 587.7h0M535.2 590.9h0M522.4 606.3h0M512.3 615.8h0M511.7 620.1h0M517.8 602.2h0M526.7 596.3h0M538.7 584.8h0M545.1 575.5h0M510.9 614.4h0M518 619.9h0M517.7 618.2h0M520.4 582.9h0M516.6 617.4h0M519.1 600.1h0M522 594.3h0M527.5 594.7h0M519.6 617.3h0M512.5 617.2h0M520.7 600.6h0M523.9 586.4h0M523.7 584.4h0M517 606.5h0M530.8 597.9h0M545.4 573.3h0M542.2 581.4h0M528.6 596.1h0M517.1 601.2h0M523.7 593.9h0M519.3 606.6h0M519.6 591.1h0M520 614.8h0M513.3 620.2h0M537.2 590.7h0M527.1 597.9h0M520.5 609.8h0M515.4 621.9h0M514.9 606.4h0M532.9 583.5h0M531.3 579.9h0M533.2 589.4h0M529.6 591.5h0M530.5 586.2h0M527.6 607.6h0M535.7 589.2h0M541 589.2h0M526.4 610h0M527.3 605.3h0M525.4 591.3h0M542.1 589h0M520.3 598.4h0M516.1 608.4h0M544.5 581.5h0M514.7 616.7h0M532.8 582.5h0M523.6 606.8h0M540.6 586h0M512.7 621.7h0M531.2 600.6h0M530.6 589.4h0M537.9 585.9h0M526.3 590h0M519.3 592.9h0M530.1 596.8h0M527 608.8h0M539.8 578.2h0M521.1 595.2h0M545 578.7h0M521.1 601.9h0M514.2 612.2h0M523.5 597h0M523.7 582.2h0M536.1 578.2h0M541.8 585.9h0M547.2 579.8h0M525.2 595.6h0M520.1 593.8h0M517.7 604.3h0M511.8 623.8h0M529.6 587.4h0M530.2 593.6h0M525.3 586.3h0M528.2 598.9h0M540.1 581h0M514.7 619.9h0M525.2 582.9h0M521.2 616h0M518.8 612.9h0M538.1 589.5h0M531.8 582.2h0M534.3 581.8h0M540.5 571.7h0M522 613.9h0M523.8 611.6h0M523.3 603.6h0M538.6 581.1h0M511.4 618.5h0M527.2 585.6h0M531.1 602.4h0M513.5 626h0M526.1 611.8h0M536.7 585.1h0M511.8 627.2h0M514.7 613.9h0M536 582h0M521.3 607.6h0M537.4 596h0M519.2 583h0M520.4 613.6h0M533.6 593.2h0M544.2 575.7h0M521.5 592.6h0M542.9 589.4h0M529.9 580h0M525.1 609.2h0M530.9 599.5h0M543.1 581h0M515.9 609.7h0M524.7 587.7h0M523.8 598.9h0M519.6 602.9h0M511.6 622.9h0M538.2 583.8h0M514.4 607.5h0M516.4 613h0M535.6 583.2h0M525.7 568.4h0M524.6 573.3h0M524.1 576.4h0M510.8 636.1h0M510.3 637.2h0M511.9 630.7h0M538.4 569.9h0M543 569.4h0M546.9 573h0M548.3 576.4h0M549.5 578.9h0M546.1 579.6h0M542.5 580.1h0M538.4 578.4h0M537.4 574.3h0M537.9 572.1h0M545.1 570.8h0M518 583h0M520 582.3h0M502.1 797.4h0"/>
<path class="pt" stroke="#CD853F" d="M393 469.6h0M397.6 471h0M395.6 474.4h0M391.6 479h0M420.6 471h0M420.4 475.6h0M423 480.4h0M430 479.6h0M434 477.6h0M440 476.4h0M366 493h0M372.6 500h0M404.4 493.6h0M398.6 499.6h0M428 498h0M367.4 504.4h0M368.4 507.6h0M415.6 507.6h0M438 504.4h0M426.6 510h0M413.4 512.6h0M395.6 515h0M401 514.4h0M426 516h0M438.6 515.6h0M434 520.4h0M402 522.6h0M400 524.6h0M408 524.6h0M419.6 522h0M368 523.6h0M413 527.4h0M419 526h0M419.6 529h0M436 526.4h0M427 530.4h0M398.6 532.4h0M405.6 531h0M404.4 534h0M405.6 537.6h0M411.6 540h0M424.6 539.4h0M428 543.4h0M399 543.4h0M437.4 543.6h0M370 536h0M377 546h0M375.6 549h0M379 549h0M376 554.4h0M386.4 558h0M379.4 558.4h0M402.6 554.4h0M411.6 554.6h0M420.4 554.4h0M427.6 553.4h0M439.4 552.6h0M441.4 553.6h0M417 560h0M419 559.6h0M425 560.6h0M431.4 559.6h0M410 564h0M422.6 565.4h0M379.4 566.4h0M416 569h0M381 572.4h0M377.4 572h0M392.4 572h0M418 572.4h0M419 575.6h0M427.6 574.4h0M436 572h0M438.4 576.4h0M382 577.6h0M398 580.6h0M393.6 582.4h0M417 582h0M419 584.4h0M408.6 585h0M408.6 588h0M410 591h0M413.6 589h0M408.4 594h0M406 595.6h0M410 598h0M407.6 601.6h0M411 601.6h0M428 590h0M428.4 594h0M424.6 597h0M422.6 599.4h0M434 594h0M374.4 601h0M373.6 604.4h0M378 604.4h0M384 606h0M429.6 607.6h0M409 606h0M399 608h0M431 609.6h0M415 601h0M422 608h0M366.6 613h0M375 612h0M379 614.4h0M377 619h0M382 621h0M385 619h0M389 620h0M400 613h0M400 618h0M402 620h0M396 622h0M399 624h0M401 627h0M395 627h0M398 629h0M407 621h0M409 620h0M405.6 624h0M385 629h0M389 628h0M389 633h0M395.6 635.6h0M417 615h0M424 616h0M425.6 618.6h0M423 636h0M406 641h0M394.4 642.6h0M399.4 644h0M397.6 650h0M401 617.4h0M395.9 620.3h0M402.3 627.2h0M397.9 617.4h0M395.1 624.6h0M401.1 625.2h0M403.3 617.1h0M393.3 618.5h0M403.9 626.1h0M397.3 625.3h0M393.1 620.5h0M400.9 622.5h0M395.7 631h0M394.4 627.9h0"/>
<path class="pt" stroke="#008B45" d="M438 458h0M440 460.4h0M443 463.6h0M479.2 446.6h0M483.6 461h0M455.6 469.6h0M461.6 472h0M470 477.4h0M476.4 479.4h0M490 464h0M493 466h0M496 470.4h0M501.6 472.6h0M485.6 475h0M496.6 473h0M496 479.4h0M501.6 480.6h0M481 484.4h0M491 485.6h0M499 485h0M497 488h0M486.4 487.6h0M467.6 493.6h0M471.6 494.4h0M476 492h0M487 492.4h0M491 494h0M501.6 493h0M488 497h0M492 499h0M500 499h0M503.6 499h0M488 502h0M496 501h0M500 502h0M480.6 505.6h0M486 507h0M491 507h0M498 506h0M476 510.4h0M488 511h0M492 512h0M497 510h0M489 515h0M494 516h0M500 518h0M504 519h0M480.6 522h0M491.6 521h0M500 522h0M505 523h0M501 527h0M477.4 531h0M491 531h0M493 530h0M501 530.4h0M489.6 532.4h0M485 537h0M494 537h0M499 538h0M485 539.4h0M491 544h0M488 545h0M504 549h0M484.4 549.4h0M493 553h0M505.6 554h0M492 560h0M503 557h0M492.4 559.4h0M492.4 553h0M495 496.1h0M497.7 495.2h0M486.7 498.1h0M498.5 489.2h0M491.6 508.9h0M497.1 510.1h0M503.3 522.6h0M498.9 517.3h0M500.9 510.4h0M493.6 494.6h0M503.2 496.3h0M498.8 503.5h0M490.4 494h0M496.6 501.6h0M497.5 512.4h0M501.4 518.4h0M497.5 522.7h0M494.9 519.7h0M500 575.7h0M511.1 591.9h0M506.5 577.4h0M504.8 594.8h0M508.5 590h0M506.1 561.6h0M514.9 593.2h0M504.9 557.7h0M507.8 577.3h0M513.2 582.3h0M507.6 581.2h0M509.3 598.7h0M510.1 591.6h0M508.1 587.4h0M509.4 571h0M500.9 582.6h0M499.4 577.3h0M513.4 599.8h0M499.3 579.2h0M504.1 588.1h0M507.5 598.9h0M511.8 594.3h0M505.5 586.6h0M509.1 565.8h0M503.9 570h0M500.9 561.7h0M514.4 587.6h0M500.9 563.6h0M501.7 575.5h0M508.5 583h0M507.7 597.8h0M511.7 559.1h0M510.1 562.8h0M504.9 569.1h0M502.5 559.6h0M509.1 586.9h0M502.6 587.3h0M502.7 584.7h0M500 563.9h0M512.3 576.3h0M510.4 567h0M507.1 574.8h0M516.2 589.9h0M508.5 594.4h0M509.8 588.5h0M510.4 593.2h0M511.7 597.3h0M512.3 578.3h0M502.4 576.8h0M506.7 567.6h0M504.2 574.7h0M513.9 570.6h0M504.7 591.4h0M511.7 574.9h0M503.5 592h0M502 582.1h0M508.1 555.4h0M513.6 563.5h0M500.9 565.5h0M507.8 559.6h0M512.9 565.5h0M500.2 587h0M505.3 571.4h0M506.2 575.5h0M506.9 584.8h0M507.2 593.1h0M501.3 587.3h0M511.3 579.6h0M500.9 583.8h0M505.7 555.9h0M510.3 557.1h0M509.9 565h0M510.8 564h0M502.8 582.8h0M513.6 583.6h0M505.6 583.8h0M514.8 585.5h0M506.6 581.9h0M501.3 574.4h0M514.5 576.8h0M499.4 574.7h0M506.7 559h0M511.5 577.6h0M508 564.3h0M503.6 558h0M508 556.5h0M511.3 562.9h0M502.9 573.9h0M503.4 559.1h0M502.7 568.3h0M501.5 559.1h0M503.9 580.9h0M511.1 588.3h0M510 578h0M506.2 580h0M507.1 565.6h0M514.4 592h0M505.1 572.7h0M513.1 561.3h0M501 570.1h0"/>
<path class="pt" stroke="#20B2AA" d="M376.6 494h0M378.4 499.4h0M353 502.6h0M395.6 506h0M401.4 505.6h0M404.6 504h0M358 508h0M361 510h0M363 511.6h0M365 513.6h0M354 518h0M359 518.6h0M357.6 522h0M366 520.6h0M362 526.4h0M379.6 526.4h0M366.4 531h0M359.6 533.6h0M366 534.4h0M369 535h0M358 541.6h0M374.6 541.6h0M356 551h0M355.6 566h0M360.6 567.4h0M427.4 564.6h0M422.6 578h0M407 576.6h0M407 579.4h0M426 587.6h0M429.6 587.6h0M415 590.4h0M418 598h0M421 604.4h0M388.4 588h0M375.6 560h0M373.6 555.2h0M380.6 588.5h0M365.5 549.3h0M383.3 583.5h0M385.9 591.6h0M382.1 582.6h0M374.5 586.6h0M377.6 567.1h0M376.3 591.3h0M375.2 592.4h0M364.9 543.2h0M383.3 592.8h0M390.2 608.2h0M368.6 570.2h0M386.1 587.8h0M374.6 571.1h0M367.6 550.3h0M368.4 579.6h0M365.5 562.3h0M381.3 590.2h0M379.7 574.5h0M385.9 595.3h0M384.3 605.3h0M381.8 598.6h0M368.5 574.7h0M366.5 572.8h0M385.5 589.8h0M371.5 565h0M369.6 540.1h0M387.3 591.2h0M378.8 581h0M380.2 590.7h0M366.8 551.5h0M377.2 593.2h0M388.6 600.4h0M375.6 590.2h0M373.2 563.9h0M365.7 544.9h0M392.1 609.1h0M391.9 604.8h0M390.3 595h0M372.3 550.6h0M388.9 593.1h0M369.6 545.1h0M390.1 610.6h0M370.9 567.8h0M379.4 593.1h0M376 586h0M366.2 569h0M391.8 603.5h0M388.9 608h0M373.7 572.6h0M378.5 575.5h0M369.6 558h0M388.1 596.5h0M365.2 560.1h0M366.6 571.6h0M367.8 544.5h0M378.1 568.6h0M372.5 573.2h0M372.3 566.4h0M370.3 572.9h0M389.1 605.2h0M368.2 563.5h0M364 559.4h0M369.3 555.8h0M383.9 581.4h0M385.3 603.2h0M376.7 577.7h0M376.7 569h0M375.8 570.8h0M363.2 549.1h0M372 556.6h0M385.8 584.7h0M374.1 577.2h0M381.8 588.1h0M376.9 581.7h0M391 605.6h0M370.2 576.3h0M382.7 596.9h0M386.7 607.5h0M378.4 587.6h0M379.5 600.5h0M381.4 602.7h0M387.9 602.1h0M389.8 596.2h0M387.2 598.1h0M378.4 595.1h0M377.5 598h0M378.8 589.8h0M362.4 548h0M365.1 556.2h0M368.9 567.3h0M385 598.8h0M362.9 541.2h0M368 558.4h0M384.2 589.5h0M375 560.1h0M372.5 589h0M389.3 597.3h0M371.9 576.9h0M375.4 568.2h0M367.5 566.8h0M386.2 593.8h0M378.3 571.7h0M377.1 573.4h0M373.4 556.6h0M392.9 606.9h0M417.6 597.6h0M421 604.4h0M419 610.6h0M422.6 618.6h0M374.6 609h0M379 610h0M384 615h0M388 616h0M393 619h0M397 614h0M412 622.6h0M391.6 631.6h0M404.6 630h0M406 634h0M410.6 631h0M414 634h0M417 637h0M420.6 632h0M423 630.4h0M428 634.4h0M436 638h0M433 639.4h0M430 641h0M424.6 641.6h0M412 640h0M410 642h0M402.6 641h0M402 645.6h0M389.4 642h0M380.6 647h0M407.6 648.4h0M414 645h0M417 647h0M419 645.6h0M430 645.4h0M433 645h0M435.4 653h0M450.4 656.6h0M402 657.4h0M403.6 659.4h0M383.4 666h0M385 668.6h0"/>
<path class="pt" stroke="#63B8FF" d="M465.8 567.9h0M462.7 572.1h0M471.2 572.8h0M460.7 576.4h0M459.1 577.9h0M463.7 576.4h0M466.3 578.9h0M461.7 579.9h0M457.6 581.5h0M456.1 584.3h0M472.4 581.5h0M473.9 582h0M470.4 583.7h0M443.6 588.1h0M465.8 589.6h0M454.3 590.7h0M455 593.5h0M475 592.9h0M472.9 594.5h0M471.4 595.3h0M467.8 595.3h0M478 597h0M436.9 597h0M459.6 600.4h0M447.9 598.8h0M446.4 600.1h0M443.3 601.7h0M448.9 601.9h0M452.5 602.9h0M447.4 605h0M456.6 605h0M451.5 609.4h0M454.5 609.1h0M441.4 612.4h0M473.4 633.4h0M453 644.8h0M474.2 608.8h0M479.5 613.8h0M461.4 608.7h0M467.3 614.8h0M474.9 613.2h0M461.9 616.7h0M483 627.8h0M465.2 615.6h0M465.6 613.4h0M472.5 608.4h0M459.9 609.2h0M466.9 620.5h0M466.6 617.5h0M481.6 627.7h0M478.6 616.8h0M470.2 612.5h0M474.7 625.8h0M470.4 620.3h0M484.6 631.3h0M482.7 622.5h0M475.4 619h0M476 610.7h0M484.9 629.5h0M463.9 614.3h0M483.1 621.4h0M459.2 616h0M481.6 618.2h0M478.4 618.6h0M477.9 628h0M471.9 610.5h0M462.6 610.3h0M478.1 621h0M473.4 621.1h0M476.5 615.9h0M459.5 611.5h0M463.3 607.8h0M475.6 620.7h0M476.4 627.3h0M487.2 626.8h0M482 621.4h0M479.4 628.5h0M478.5 624h0M472.9 611.8h0M466.4 618.8h0M470.4 622.4h0M476.4 625.4h0M480.2 615.8h0M473.9 618.2h0M483.1 624.5h0M471.5 608.8h0M482.2 619.7h0M477.2 618.3h0M464.1 612.9h0M460.3 617.8h0M484.1 628.4h0M486.2 626.1h0M463.2 619.1h0M479.3 626.4h0M479.4 623.1h0M475.4 622.2h0M478.4 608.6h0M469.1 616.2h0M479.6 624.9h0M487.1 629h0M481.6 616.6h0M477.8 615.8h0M471.5 615.8h0M465.9 611.6h0M482.5 626.2h0M478.2 612.2h0M472.3 619.1h0M482.4 629.4h0M462 611.4h0M467.4 608.9h0M477.6 624.8h0M484.5 627.4h0M470.8 613.4h0M464.1 607.1h0M473.7 619.6h0M483.8 626h0M468.4 610h0M460.4 616.6h0M484 623.5h0M469.7 617.6h0M473.8 615.7h0M404 791.8h0"/>
<path class="pt" stroke="#AB82FF" d="M527.8 532.6h0M510.7 531.2h0M525.7 525.8h0M547 522h0M542 511.5h0M532.5 550.9h0M512.8 518.7h0M548.5 542.1h0M544.4 522.1h0M556.5 536.9h0M540.1 532.5h0M515.9 528.3h0M554 539.5h0M523.5 546.2h0M510.7 516.9h0M501 542.9h0M544 532.6h0M513.5 511.5h0M512.2 537.5h0M520 537.6h0M518.6 539.7h0M542.6 515.4h0M534.8 548.4h0M533.2 519.9h0M520.4 525.8h0M552.4 519.7h0M536.3 546.4h0M516.5 540.4h0M538.1 509.6h0M518.5 526.2h0M517 517.4h0M521.7 521.9h0M533.8 550.6h0M554.6 524.7h0M546.7 528h0M515 539.9h0M521.2 532.2h0M514.4 512.3h0M534.1 537.3h0M521 512.3h0M546.2 539.8h0M521.9 535.1h0M521.7 538h0M538.2 548h0M516.9 519.5h0M510.1 518.9h0M527.5 545h0M544.9 514.4h0M512.2 528.1h0M560.6 529.1h0M559.7 530.3h0M525.7 528.4h0M554.5 519.7h0M513.1 547h0M532.7 537.4h0M515.3 527h0M520.5 514.5h0M543.4 538.6h0M522 540.8h0M559.5 522.6h0M540.2 520.3h0M544.4 543.1h0M523.2 538.7h0M554.2 529.4h0M526 513.9h0M517.6 549.6h0M536.1 523.5h0M537.9 546.8h0M533.7 552.3h0M522.6 517.2h0M560.1 532.1h0M543.4 511.5h0M542.9 534.3h0M529.5 539.9h0M540.2 539h0M536.2 511.5h0M535.7 551h0M514.1 518.5h0M518.7 517.4h0M555.2 532.2h0M547.3 525.6h0M513.1 533.9h0M529 526.6h0M536.6 534.8h0M551.9 541h0M520.8 541.9h0M519.6 535.4h0M533.3 517.7h0M522.2 519.5h0M552.9 517.8h0M557.2 540.6h0M537.4 525.6h0M527.2 537.1h0M517.5 515.1h0M543.8 528.5h0M527.9 543h0M507.9 537.1h0M525.8 544h0M546.3 515.4h0M548 524.1h0M539.2 517.7h0M558.4 520h0M505.3 540h0M502.1 542.7h0M516.2 549.2h0M525.2 546.4h0M514 524.2h0M528.2 539.4h0M530.2 546.9h0M519.6 542.8h0M510.3 534.9h0M506.4 538.9h0M545.3 538.3h0M529.4 534.9h0M526.6 542.6h0M545.5 517.2h0M555.2 533.5h0M550.4 542.5h0M553.1 538.7h0M528.7 538h0M508.4 540.1h0M510 539.6h0M507.7 547h0M517.7 551.5h0M509.4 511.1h0M556.3 526.4h0M502.5 541.1h0M547.5 542.7h0M511.6 536.4h0M554.8 542.2h0M550.4 526.3h0M541.9 513.1h0M539 526.4h0M561.2 536.3h0M559.6 528.1h0M533.1 549.1h0M548.8 538.9h0M510.8 548.8h0M533.4 511.6h0M557.2 533.6h0M548.1 535.8h0M557.5 514.6h0M526.9 549.5h0M531.3 547.4h0M511 544.5h0M513.1 535.2h0M558.9 521.4h0M540.9 514.2h0M522.6 539.7h0M536.7 510.1h0M511.9 543.1h0M538.1 545.6h0M543 535.7h0M536.4 531.5h0M536.4 512.9h0M553.1 536.1h0M533 531.4h0M524.9 515.9h0M531 540h0M527 514.6h0M533.6 528.5h0M540.2 522h0M546.9 513.8h0M545.1 525.7h0M548.1 530.6h0M511.5 521.8h0M538.4 524.9h0M541.2 540.5h0M523.5 548.3h0M561.4 535h0M547.9 520.3h0M550.4 520.7h0M524.4 493h0M526.6 500.4h0M545.4 499.6h0M548 504h0M544.6 504.4h0M503.6 506.6h0M508.6 505h0M495 541h0M496.4 553.4h0M506.6 553.6h0M516 562.4h0M529 558.6h0M528.6 564h0M510.4 566.4h0M514 576.6h0M519.6 574h0M514.4 583.4h0M566.4 552.4h0M538 509.6h0M556 511.4h0M560.6 536.4h0M561.8 539.3h0M562.6 542.3h0M563.5 545.2h0M564.7 548.1h0M565.7 550.3h0M560 531.3h0M561.2 526.9h0"/>
<path class="pt" stroke="#EE30A7" d="M510.1 654.1h0M511.7 660.1h0M505.1 643.6h0M510.8 654.9h0M506.2 640.6h0M508.5 646.4h0M505.4 638.7h0M511.5 656.8h0M512.9 658.1h0M505.5 646.8h0M510.3 656.4h0M506.3 644.6h0M512.4 654.4h0M506.8 648.6h0M508 650.7h0M507.5 649.5h0M508.3 647.4h0M505.7 645.5h0M513.2 655.8h0M512.5 657.1h0M508.8 652.5h0M506.2 642.4h0M510.7 658.3h0M508.3 653.6h0M507.7 645.9h0M509.3 654.3h0M505.7 637.7h0M509.7 651h0M511.4 653.8h0M511.6 658.8h0M512.3 655.4h0M509.1 648.6h0M512.7 659.4h0M507.9 644.4h0M503.6 632.8h0M504.2 635.2h0M511.9 661.3h0M514.1 658h0M517.4 655.8h0M519.2 654.9h0M521.4 653.7h0M522.8 652.6h0M525.8 651.5h0M520.5 648.1h0M515.9 656.5h0"/>
<rect class="bd" x="342.4" y="428.8" width="235.1" height="386"/>
<path class="tm" d="M351 814.8v2.9M413.5 814.8v2.9M476 814.8v2.9M538.5 814.8v2.9M342.4 504.5h-3.8M342.4 586.5h-3.8M342.4 668.5h-3.8M342.4 750.5h-3.8"/>
<text class="tk" x="351" y="830.2" text-anchor="middle">-1.0</text>
<text class="tk" x="413.5" y="830.2" text-anchor="middle">-0.5</text>
<text class="tk" x="476" y="830.2" text-anchor="middle">0.0</text>
<text class="tk" x="538.5" y="830.2" text-anchor="middle">0.5</text>
<text class="tk" x="335.9" y="508.9" text-anchor="end">0.5</text>
<text class="tk" x="335.9" y="590.9" text-anchor="end">0.0</text>
<text class="tk" x="335.9" y="672.9" text-anchor="end">-0.5</text>
<text class="tk" x="335.9" y="754.9" text-anchor="end">-1.0</text>
<text class="tt" x="458.3" y="845.4" text-anchor="middle">MDS1</text>
<text class="tt" style="font-size:13.4px" transform="translate(312.8 621.8) rotate(-90)" text-anchor="middle">MDS2</text>
</g>
<g id="leg1">
<text class="lt" x="596.3" y="172.9">Material</text>
<circle cx="607.4" cy="192.5" r="2.4" fill="#F8766D"/>
<text class="lg" x="623.7" y="197.1" xml:space="preserve">ORGANIC</text>
<circle cx="607.4" cy="213.3" r="2.4" fill="#00BFC4"/>
<text class="lg" x="623.7" y="217.9" xml:space="preserve">PLASTIC</text>
</g><g id="leg2">
<text class="lt" x="596.3" y="551.2">Material</text>
<circle cx="607.4" cy="569.7" r="2.4" fill="#EE6363"/>
<text class="lg" x="623.7" y="574.3" xml:space="preserve">NYLON</text>
<circle cx="607.4" cy="590.5" r="2.4" fill="#CD853F"/>
<text class="lg" x="623.7" y="595.1" xml:space="preserve">PE / PP - PE</text>
<circle cx="607.4" cy="611.3" r="2.4" fill="#008B45"/>
<text class="lg" x="623.7" y="615.9" xml:space="preserve">PET</text>
<circle cx="607.4" cy="632.1" r="2.4" fill="#20B2AA"/>
<text class="lg" x="623.7" y="636.7" xml:space="preserve">PP</text>
<circle cx="607.4" cy="652.9" r="2.4" fill="#63B8FF"/>
<text class="lg" x="623.7" y="657.5" xml:space="preserve">PS</text>
<circle cx="607.4" cy="673.7" r="2.4" fill="#AB82FF"/>
<text class="lg" x="623.7" y="678.3" xml:space="preserve">PUR</text>
<circle cx="607.4" cy="694.5" r="2.4" fill="#EE30A7"/>
<text class="lg" x="623.7" y="699.1" xml:space="preserve">PVC</text>
</g>
<path d="M1 269.2h1M1 365h1" stroke="#c4c4c4" stroke-width="1" fill="none"/>
</svg></body></html>
